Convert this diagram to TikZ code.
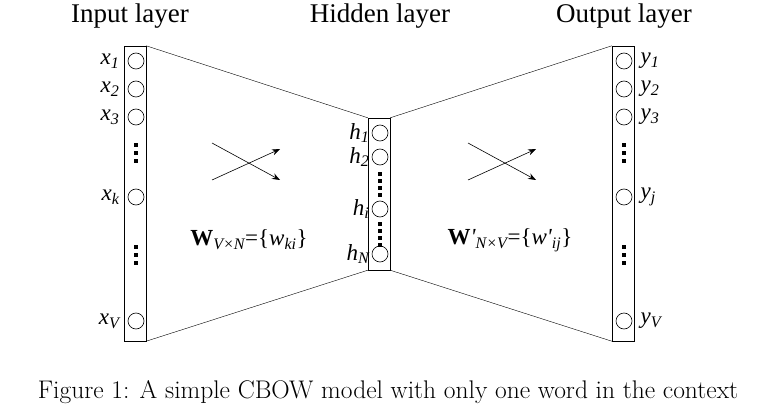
\documentclass[tikz,border=0pt]{standalone}
\usepackage{fontspec}
\newfontfamily\tms{Liberation Serif}
\newfontfamily\tmsit{Liberation Serif Italic}
\usetikzlibrary{arrows.meta,positioning}
\newcommand{\vsub}[2]{{\tmsit #1}\textsubscript{\tmsit #2}}

\begin{document}
\begin{tikzpicture}[
    x=1pt, y=-1pt,
    >={Stealth[length=8pt,width=6pt]},
    semithick,
    font=\tms,
    unit/.style={circle,draw,semithick,minimum size=16pt,inner sep=0pt},
    layer/.style={draw,thin,minimum width=22pt,inner sep=0pt},
    dot/.style={fill=black,minimum size=4pt,inner sep=0pt},
    title/.style={font=\tms\fontsize{27}{30}\selectfont},
    lbl/.style={font=\tms\fontsize{23}{26}\selectfont,inner sep=0pt}
]
\useasboundingbox (0,0) rectangle (762,414);

% -- layer boxes --
\node[layer,minimum height=295pt] (inBox) at (135,193.5) {};
\node[layer,minimum height=152pt] (hidBox) at (379,194) {};
\node[layer,minimum height=295pt] (outBox) at (623,193.5) {};

\node[title] (inTitle) at (130,16) {Input layer};
\node[title] (hidTitle) at (380,16) {Hidden layer};
\node[title] (outTitle) at (624,16) {Output layer};

% -- input units --
\node[unit] (x1) at (136,61) {};
\node[unit] (x2) at (136,89) {};
\node[unit] (x3) at (136,117) {};
\node[unit] (xk) at (136,197) {};
\node[unit] (xV) at (136,321) {};
\node[lbl,left=8pt of x1] {\vsub{x}{1}};
\node[lbl,left=8pt of x2] {\vsub{x}{2}};
\node[lbl,left=8pt of x3] {\vsub{x}{3}};
\node[lbl,left=8pt of xk] {\vsub{x}{k}};
\node[lbl,left=8pt of xV] {\vsub{x}{V}};

% -- hidden units --
\node[unit] (h1) at (380,133) {};
\node[unit] (h2) at (380,157) {};
\node[unit] (hi) at (380,209) {};
\node[unit] (hN) at (380,254) {};
\node[lbl,left=2pt of h1] {\vsub{h}{1}};
\node[lbl,left=2pt of h2] {\vsub{h}{2}};
\node[lbl,left=2pt of hi] {\vsub{h}{i}};
\node[lbl,left=2pt of hN] {\vsub{h}{N}};

% -- output units --
\node[unit] (y1) at (624,61) {};
\node[unit] (y2) at (624,89) {};
\node[unit] (y3) at (624,117) {};
\node[unit] (yj) at (624,197) {};
\node[unit] (yV) at (624,321) {};
\node[lbl,right=8pt of y1] {\vsub{y}{1}};
\node[lbl,right=8pt of y2] {\vsub{y}{2}};
\node[lbl,right=8pt of y3] {\vsub{y}{3}};
\node[lbl,right=8pt of yj] {\vsub{y}{j}};
\node[lbl,right=8pt of yV] {\vsub{y}{V}};

% -- ellipsis dots --
\foreach \y in {145,153,161,247,255,263} {
  \node[dot] at (136,\y) {};
  \node[dot] at (624,\y) {};
}
\foreach \y in {174,181,188,195,224,231,238,245} {
  \node[dot] at (380,\y) {};
}

% -- trapezoid edges --
\draw[thin] (inBox.north east) -- (hidBox.north west);
\draw[thin] (inBox.south east) -- (hidBox.south west);
\draw[thin] (hidBox.north east) -- (outBox.north west);
\draw[thin] (hidBox.south east) -- (outBox.south west);

% -- crossing arrows --
\coordinate (lA) at (212,143); \coordinate (lB) at (280,180);
\coordinate (lC) at (212,180); \coordinate (lD) at (280,149);
\draw[->] (lA) -- (lB);
\draw[->] (lC) -- (lD);
\coordinate (rA) at (468,143); \coordinate (rB) at (536,180);
\coordinate (rC) at (468,180); \coordinate (rD) at (536,149);
\draw[->] (rA) -- (rB);
\draw[->] (rC) -- (rD);

\node[lbl] (wIn) at (249,240)
  {\textbf{W}\textsubscript{\tmsit V×N}=\{\vsub{w}{ki}\}};
\node[lbl] (wOut) at (510,240)
  {\textbf{W}{\tmsit '}\textsubscript{\tmsit N×V}=\{\vsub{w'}{ij}\}};

\node[font=\fontsize{25.5}{30}\selectfont] (caption) at (388,392)
  {Figure 1: A simple CBOW model with only one word in the context};
\end{tikzpicture}
\end{document}
